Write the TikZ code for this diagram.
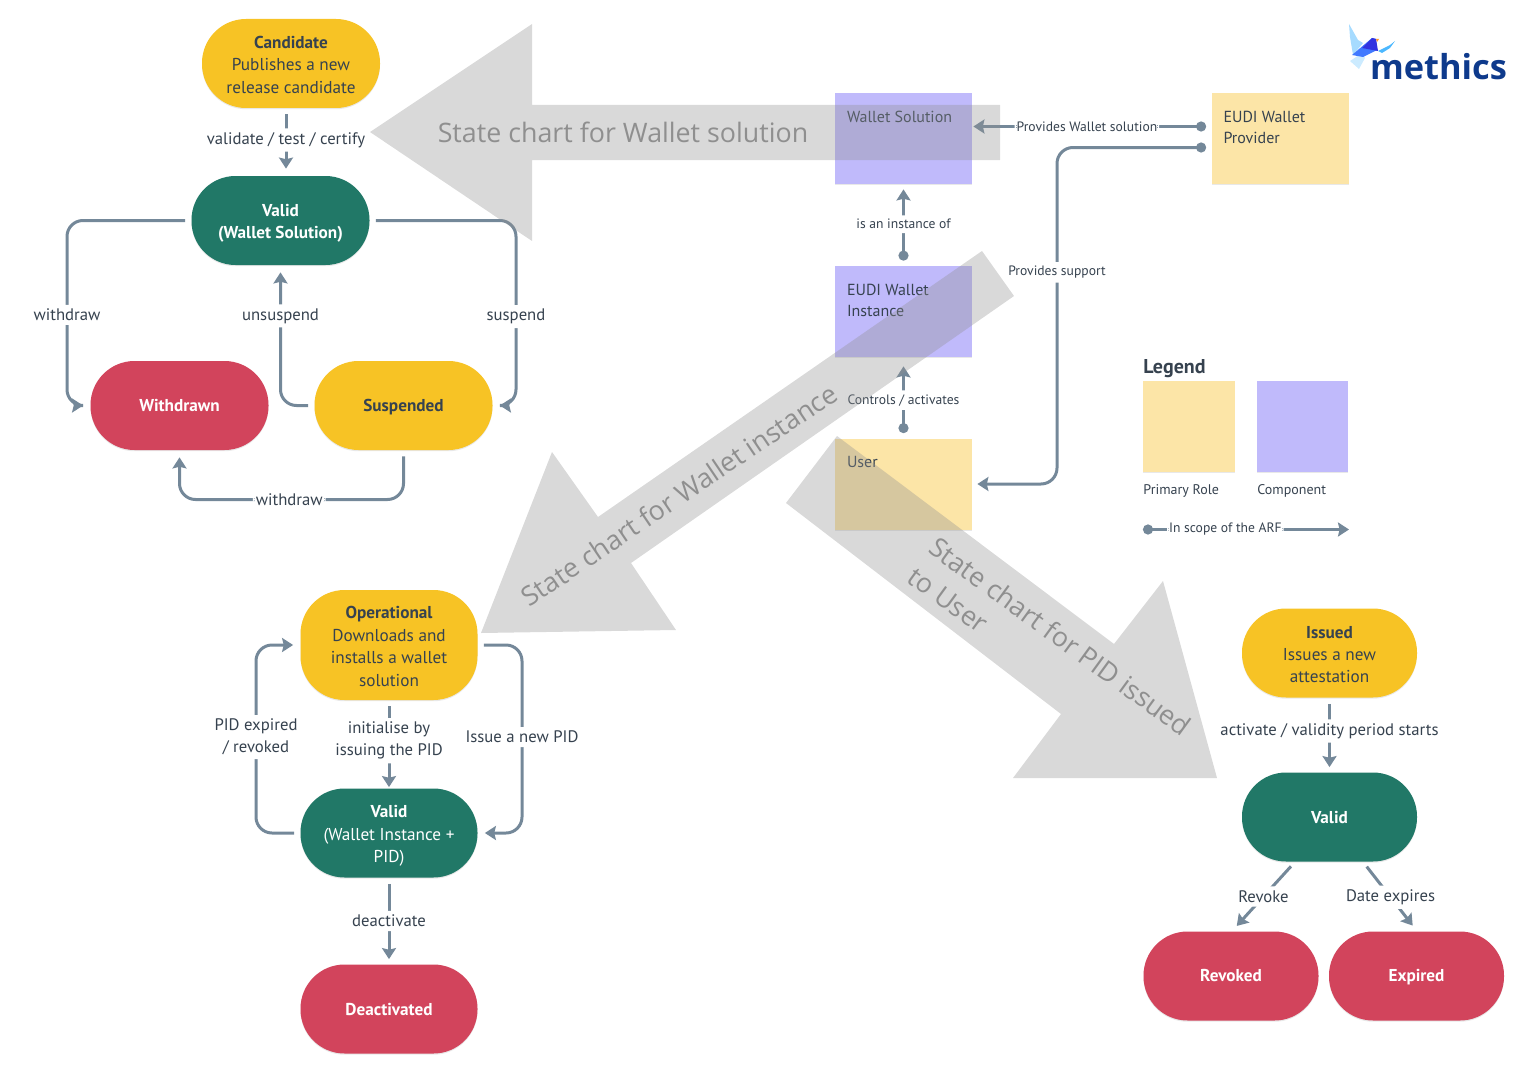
\documentclass[tikz,border=0pt]{standalone}
\usepackage{fontspec}
\setmainfont{PT Sans}
\newfontfamily\bandfont{Open Sans}
\newfontfamily\logofont{Open Sans}
\usetikzlibrary{positioning, arrows.meta, shadows}
\definecolor{stateyellow}{HTML}{F7C325}
\definecolor{stategreen}{HTML}{217867}
\definecolor{statered}{HTML}{D2445C}
\definecolor{lilac}{HTML}{C0BAFB}
\definecolor{sand}{HTML}{FCE5A7}
\definecolor{slate}{HTML}{748899}
\definecolor{inkdark}{HTML}{36424F}
\definecolor{bandtext}{HTML}{8F8F8F}
\newcommand{\dropline}[1]{\rule{0pt}{#1pt}}
\tikzset{
    softshadow/.style={drop shadow={shadow xshift=0pt,shadow yshift=-.6pt,opacity=.18}},
    state/.style={rectangle,rounded corners=22pt,minimum width=89pt,minimum height=44.5pt,inner sep=0pt,align=center,font=\fontsize{8.6}{11.2}\selectfont,softshadow},
    yellowstate/.style={state,fill=stateyellow,text=inkdark},
    greenstate/.style={state,fill=stategreen,text=white},
    redstate/.style={state,fill=statered,text=white},
    boxtext/.style={anchor=north west,align=left,inner xsep=6pt,inner ysep=9pt,text=inkdark,font=\fontsize{8}{10.8}\selectfont},
    lilacbox/.style={rectangle,fill=lilac,minimum width=68.5pt,minimum height=45.5pt,inner sep=0pt,softshadow},
    sandbox/.style={lilacbox,fill=sand},
    conn/.style={draw=slate,line width=1.5pt,rounded corners=8pt,shorten <=3pt,shorten >=3.5pt,-{Stealth[length=5.5pt,width=7pt,inset=.8pt]}},
    dotconn/.style={conn,shorten <=2.5pt,{Circle[length=5pt]}-{Stealth[length=5.5pt,width=7pt,inset=.8pt]}},
    lab/.style={fill=white,inner xsep=1.5pt,inner ysep=2pt,text=inkdark,align=center,font=\fontsize{8.35}{11}\selectfont},
    smalllab/.style={lab,inner xsep=1pt,font=\fontsize{6.8}{8}\selectfont},
    legendtext/.style={anchor=north west,inner sep=0pt,text=inkdark,font=\fontsize{7}{8}\selectfont},
    band/.style={fill=black!43,opacity=.35,draw=none},
    bandlab/.style={text=bandtext,font=\bandfont\fontsize{13.4}{18}\selectfont,align=left},
}
\begin{document}
\begin{tikzpicture}[x=0.5pt,y=-0.5pt]
    \useasboundingbox (0,0) rectangle (1536,1086);

    % wallet solution states
    \node[yellowstate] (cand) at (291,63.5) {\dropline{7.5}\textbf{Candidate}\\Publishes a new\\release candidate};
    \node[greenstate] (vws) at (280.5,220.5) {\dropline{9}\textbf{Valid}\\\textbf{(Wallet Solution)}};
    \node[redstate] (wdn) at (179.5,405.5) {\textbf{Withdrawn}};
    \node[yellowstate] (susp) at (403.5,405.5) {\dropline{7.4}\textbf{Suspended}};
    \draw[conn] (cand.south -| 286,0) -- node[lab,pos=.47]{validate / test / certify} (vws.north -| 286,0);
    \draw[conn] (vws.west) -- (67,220.5) -- node[lab,pos=.51]{withdraw} (67,405.5) -- (wdn.west);
    \draw[conn] (vws.east) -- (516,220.5) -- node[lab,pos=.52]{suspend} (516,405.5) -- (susp.east);
    \draw[conn] (susp.west) -- (280.5,405.5) -- node[lab,pos=.64]{unsuspend} (vws.south);
    \draw[conn] (susp.south) -- (403.5,499.5) -- node[lab,pos=.51]{withdraw} (179.5,499.5) -- (wdn.south);

    % wallet instance states
    \node[yellowstate,minimum height=55pt,minimum width=88.5pt] (oper) at (389,645) {\dropline{7.5}\textbf{Operational}\\Downloads and\\installs a wallet\\solution};
    \node[greenstate,minimum width=88.5pt] (vwi) at (389,833) {\dropline{9}\textbf{Valid}\\(Wallet Instance +\\PID)};
    \node[redstate,minimum width=88.5pt] (deact) at (389,1009) {\textbf{Deactivated}};
    \draw[conn,shorten >=.5pt] (oper) -- node[lab,pos=.46]{initialise by\\issuing the PID} (vwi);
    \draw[conn] (vwi.west) -- (256,833) -- node[lab,pos=.51]{PID expired\\/ revoked} (256,645) -- (oper.west);
    \draw[conn] (oper.east) -- (522,645) -- node[lab,pos=.49]{Issue a new PID} (522,833) -- (vwi.east);
    \draw[conn,shorten >=2.5pt] (vwi) -- node[lab,pos=.5]{deactivate} (deact);

    % pid states
    \node[yellowstate,minimum width=87.5pt] (issd) at (1329.5,653) {\dropline{7.5}\textbf{Issued}\\Issues a new\\attestation};
    \node[greenstate,minimum width=87.5pt] (vpid) at (1329.5,817) {\textbf{Valid}};
    \node[redstate,minimum width=87.5pt] (revk) at (1231,976) {\textbf{Revoked}};
    \node[redstate,minimum width=87.5pt] (expd) at (1416.5,976) {\dropline{7.4}\textbf{Expired}};
    \draw[conn,shorten >=2.5pt] (issd) -- node[lab,pos=.445]{activate / validity period starts} (vpid);
    \draw[conn] (vpid.south -| 1295,0) -- node[lab,pos=.5]{Revoke} (revk.north -| 1232,0);
    \draw[conn] (vpid.south -| 1363,0) -- node[lab,pos=.51]{Date expires} (expd.north -| 1417,0);

    % roles and components
    \node[lilacbox,label={[boxtext]north west:Wallet Solution}] (wsol) at (903.5,138.5) {};
    \node[lilacbox,label={[boxtext]north west:EUDI Wallet\\Instance}] (wins) at (903.5,311.5) {};
    \node[sandbox,label={[boxtext]north west:User}] (usr) at (903.5,484) {};
    \node[sandbox,label={[boxtext]north west:EUDI Wallet\\Provider}] (prov) at (1280,138.5) {};
    \draw[dotconn,shorten >=.5pt] (prov.west |- 0,126.5) -- node[smalllab,pos=.52]{Provides Wallet solution} (wsol.east |- 0,126.5);
    \draw[dotconn,shorten >=2.5pt] (prov.west |- 0,147.5) -- (1057,147.5) -- node[smalllab,pos=.371]{Provides support} (1057,484) -- (usr.east);
    \draw[dotconn,shorten >=2.5pt] (wins) -- node[smalllab,pos=.51]{is an instance of} (wsol);
    \draw[dotconn,shorten >=4.5pt] (usr) -- node[smalllab,pos=.47]{Controls / activates} (wins);

    % legend
    \node[anchor=west,inner sep=0pt,text=inkdark,font=\fontsize{10}{12}\selectfont\bfseries] (leg) at (1143,369) {Legend};
    \node[sandbox,minimum width=46pt] (lsand) at (1189,426) {};
    \node[lilacbox,minimum width=45.5pt] (llil) at (1302.5,426) {};
    \node[legendtext] (lrole) at (1143,484) {Primary Role};
    \node[legendtext] (lcomp) at (1257,484) {Component};
    \coordinate (lstart) at (1143,529.5);
    \coordinate (lend) at (1349,529.5);
    \draw[dotconn,shorten <=0pt,shorten >=0pt] (lstart) -- node[smalllab,pos=.4]{In scope of the ARF} (lend);

    % logo
    \fill[blue!40!cyan!35] (1349,24) -- (1358,40) -- (1363,43) -- (1353,55) -- (1350,37) -- cycle;
    \fill[blue!40!cyan!20] (1350,61) -- (1362,53) -- (1365,58) -- (1359,69) -- cycle;
    \fill[blue!40!cyan!70] (1378,51) -- (1390,45) -- (1395,41) -- (1390,48) -- (1382,53) -- cycle;
    \fill[blue!70!cyan!75] (1352,55) -- (1372,38) -- (1376,39) -- (1377,50) -- (1363,57) -- cycle;
    \fill[blue!85!black!80] (1362,48) -- (1372,38) -- (1376,39) -- (1378,51) -- cycle;
    \fill[orange!80] (1376,39) -- (1379,39) -- (1377,42) -- cycle;
    \node[inner sep=0pt,text={rgb,255:red,14;green,58;blue,140},font=\logofont\fontsize{17.2}{20}\selectfont\bfseries] (logo) at (1438.5,67) {methics};

    % big grey arrows, on top of everything
    \fill[band] (370,132) -- (532,24) -- (532,105) -- (1000,105) -- (1000,160) -- (532,160) -- (532,241) -- cycle;
    \fill[band] (481,633) -- (552,452) -- (598,517) -- (982,251) -- (1014,296) -- (631,563) -- (676,630) -- cycle;
    \fill[band] (1217,778) -- (1163,581) -- (1114,644) -- (837,436) -- (786,503) -- (1061,714) -- (1013,778) -- cycle;
    \node[bandlab] (bandsol) at (623,132) {State chart for Wallet solution};
    \node[bandlab,rotate=34] (bandinst) at (679,495) {State chart for Wallet instance};
    \node[bandlab,rotate=-36] (bandpid) at (1050,651) {State chart for PID issued\\to User};
\end{tikzpicture}
\end{document}
